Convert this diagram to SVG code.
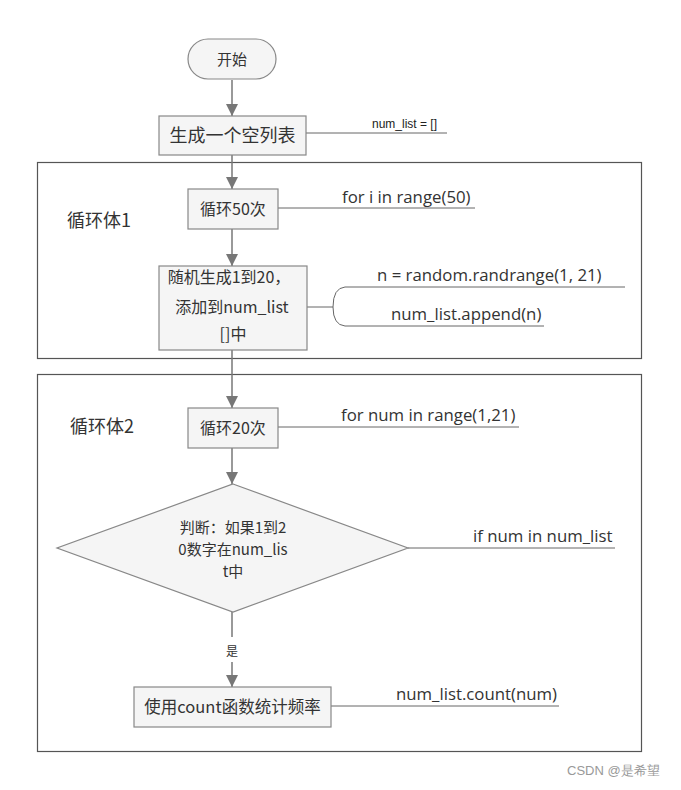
<svg xmlns="http://www.w3.org/2000/svg" width="681" height="790" viewBox="0 0 681 790">
<style>
.cn{font-family:"Noto Sans CJK SC","Noto Sans",sans-serif;fill:#333}
.code{font-family:"Open Sans","Noto Sans",sans-serif;fill:#333;font-size:16.8px}
.box{fill:#f5f5f5;stroke:#888;stroke-width:1.2}
.frame{fill:none;stroke:#555;stroke-width:1.2}
.con{fill:none;stroke:#777;stroke-width:1.5}
.ann{fill:none;stroke:#666;stroke-width:1}
</style>
<defs>
<marker id="ah" viewBox="0 0 12 12" refX="12" refY="6" markerWidth="12" markerHeight="12" markerUnits="userSpaceOnUse" orient="auto">
<path d="M0,0 L12,6 L0,12 z" fill="#777"/>
</marker>
</defs>
<rect width="681" height="790" fill="#fff"/>
<g id="frame1"><rect class="frame" x="37.5" y="162.5" width="604" height="196"/>
<text class="cn" x="67" y="227" font-size="18">循环体1</text></g>
<g id="frame2"><rect class="frame" x="37.5" y="374.5" width="604" height="377"/>
<text class="cn" x="70" y="433" font-size="18">循环体2</text></g>

<g id="connectors">
<line class="con" x1="232" y1="80" x2="232" y2="116" marker-end="url(#ah)"/>
<line class="con" x1="232" y1="155" x2="232" y2="189" marker-end="url(#ah)"/>
<line class="con" x1="232" y1="229" x2="232" y2="266" marker-end="url(#ah)"/>
<line class="con" x1="232" y1="350" x2="232" y2="408" marker-end="url(#ah)"/>
<line class="con" x1="232" y1="448" x2="232" y2="484" marker-end="url(#ah)"/>
<line class="con" x1="232" y1="612" x2="232" y2="637"/>
<line class="con" x1="232" y1="662" x2="232" y2="687" marker-end="url(#ah)"/>
<text class="cn" x="232" y="656" font-size="12" text-anchor="middle">是</text>
<path class="ann" d="M306,133 H447"/>
<path class="ann" d="M278,208 H475"/>
<path class="ann" d="M307,307 H333 M345,287 H625 M345,326 H544 M345,287 Q333,288 333,307 Q333,325 345,326"/>
<path class="ann" d="M278,427 H519"/>
<path class="ann" d="M408,548 H615"/>
<path class="ann" d="M331,706 H559"/>
<text x="372" y="128" font-family="Liberation Sans,Arial,sans-serif" font-size="12" fill="#222">num_list = []</text>
<text class="code" x="342" y="203">for i in range(50)</text>
<text class="code" x="377" y="281">n = random.randrange(1, 21)</text>
<text class="code" x="391" y="320">num_list.append(n)</text>
<text class="code" x="341" y="421">for num in range(1,21)</text>
<text class="code" x="473" y="542">if num in num_list</text>
<text class="code" x="396" y="700">num_list.count(num)</text>
</g>

<g id="start"><rect class="box" x="188" y="39" width="88" height="40" rx="20"/>
<text class="cn" x="232" y="65" font-size="15" text-anchor="middle">开始</text></g>
<g id="makelist"><rect class="box" x="159" y="116" width="147" height="39"/>
<text class="cn" x="232.5" y="142" font-size="18" text-anchor="middle">生成一个空列表</text></g>
<g id="loop50"><rect class="box" x="188" y="189" width="90" height="40"/>
<text class="cn" x="233" y="215" font-size="16" text-anchor="middle">循环50次</text></g>
<g id="rand"><rect class="box" x="159" y="266" width="148" height="84"/>
<text class="cn" font-size="16" text-anchor="middle"><tspan x="229" y="283">随机生成1到20，</tspan><tspan x="232" y="313">添加到num_list</tspan><tspan x="233" y="340">[]中</tspan></text></g>
<g id="loop20"><rect class="box" x="188" y="408" width="90" height="40"/>
<text class="cn" x="233" y="434" font-size="16" text-anchor="middle">循环20次</text></g>
<g id="judge"><polygon class="box" points="233,484 408,548 233,612 57,548"/>
<text class="cn" font-size="15" text-anchor="middle"><tspan x="233" y="533">判断：如果1到2</tspan><tspan x="233" y="555">0数字在num_lis</tspan><tspan x="233" y="577">t中</tspan></text></g>
<g id="count"><rect class="box" x="134" y="687" width="197" height="40"/>
<text class="cn" x="232.5" y="713" font-size="16.5" text-anchor="middle">使用count函数统计频率</text></g>
<text x="567" y="775" font-family="Liberation Sans,sans-serif" font-size="13" fill="#999">CSDN @是希望</text>
</svg>
